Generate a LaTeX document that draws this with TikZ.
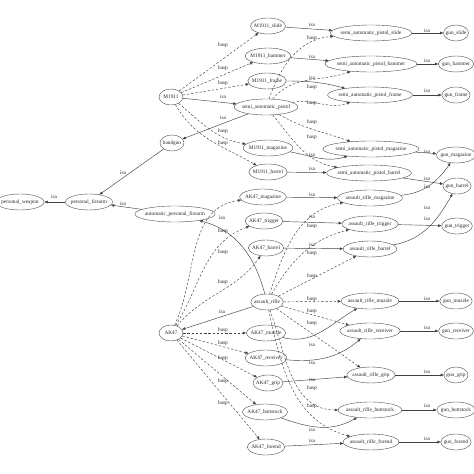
\documentclass[tikz,border=0pt]{standalone}
\usepackage{fontspec}
\setmainfont{Liberation Serif}
\usetikzlibrary{shapes.geometric,arrows.meta}
\newcommand\fsm{\fontsize{5.3}{6}\selectfont}
\begin{document}
\begin{tikzpicture}[x=1pt,y=1pt,
  ent/.style={draw=black!70, line width=0.4pt, ellipse, inner xsep=-1.5pt, inner ysep=2pt,
              minimum width=24pt, minimum height=16pt, font=\fsm, text=black!85},
  isa/.style={draw=black!75, line width=0.45pt, -{Triangle[length=3.2pt,width=2.6pt]}},
  hasp/.style={isa, dash pattern=on 2.4pt off 1.8pt},
  lab/.style={font=\fsm, inner sep=0pt, text=black!85}]
\clip (0,0) rectangle (474,474);
% nodes
\node[ent] (pw) at (20,272) {personal\_weapon};
\node[ent] (pf) at (89,272) {personal\_firearm};
\node[ent] (hg) at (172,331) {handgun};
\node[ent] (apf) at (175,260) {automatic\_personal\_firearm};
\node[ent] (m) at (171,377) {M1911};
\node[ent] (ak) at (171,141) {AK47};
\node[ent] (ms) at (268,448) {M1911\_slide};
\node[ent] (mh) at (268,418) {M1911\_hammer};
\node[ent] (mf) at (267,393) {M1911\_frame};
\node[ent] (sap) at (266,367) {semi\_automatic\_pistol};
\node[ent] (mm) at (268,326) {M1911\_magazine};
\node[ent] (mb) at (268,302) {M1911\_barrel};
\node[ent] (akm) at (263,277) {AK47\_magazine};
\node[ent] (akt) at (264,253) {AK47\_trigger};
\node[ent] (akb) at (266,226) {AK47\_barrel};
\node[ent] (ar) at (267,172) {assault\_rifle};
\node[ent] (akmz) at (266,141) {AK47\_muzzle};
\node[ent] (akr) at (266,116) {AK47\_receiver};
\node[ent] (akg) at (268,91) {AK47\_grip};
\node[ent] (akbs) at (265,62) {AK47\_buttstock};
\node[ent] (akf) at (266,27) {AK47\_forend};
\node[ent] (saps) at (371,441) {semi\_automatic\_pistol\_slide};
\node[ent] (saph) at (371,410) {semi\_automatic\_pistol\_hammer};
\node[ent] (sapf) at (370,379) {semi\_automatic\_pistol\_frame};
\node[ent] (sapm) at (371,325) {semi\_automatic\_pistol\_magazine};
\node[ent] (sapb) at (369,301) {semi\_automatic\_pistol\_barrel};
\node[ent] (arm) at (370,276) {assault\_rifle\_magazine};
\node[ent] (art) at (370,250) {assault\_rifle\_trigger};
\node[ent] (arb) at (370,225) {assault\_rifle\_barrel};
\node[ent] (armz) at (370,173) {assault\_rifle\_muzzle};
\node[ent] (arr) at (370,143) {assault\_rifle\_receiver};
\node[ent] (arg) at (371,99) {assault\_rifle\_grip};
\node[ent] (arbs) at (370,64) {assault\_rifle\_buttstock};
\node[ent] (arf) at (371,32) {assault\_rifle\_forend};
\node[ent] (gs) at (456,441) {gun\_slide};
\node[ent] (gh) at (456,410) {gun\_hammer};
\node[ent] (gf) at (456,379) {gun\_frame};
\node[ent] (gm) at (456,319) {gun\_magazine};
\node[ent] (gb) at (457,288) {gun\_barrel};
\node[ent] (gt) at (457,248) {gun\_trigger};
\node[ent] (gmz) at (456,173) {gun\_muzzle};
\node[ent] (gr) at (456,143) {gun\_receiver};
\node[ent] (gg) at (456,99) {gun\_grip};
\node[ent] (gbs) at (456,64) {gun\_buttstock};
\node[ent] (gfo) at (456,32) {gun\_forend};
% taxonomy
\draw[isa] (pf) -- (pw) node[lab] at (54,277) {isa};
\draw[isa] (hg) -- (pf) node[lab] at (123,301) {isa};
\draw[isa] (apf) -- (pf) node[lab] at (123,270) {isa};
\draw[isa] (sap) -- (hg) node[lab] at (223,356) {isa};
\draw[isa] (m) -- (sap) node[lab] at (223,377) {isa};
\draw[isa] (ar) to[out=105,in=-15] (apf) node[lab] at (222,256) {isa};
\draw[isa] (ar) -- (ak) node[lab] at (222,162) {isa};
% M1911 parts
\draw[hasp] (m) -- (ms) node[lab] at (223,429) {hasp};
\draw[hasp] (m) -- (mh) node[lab] at (223,406) {hasp};
\draw[hasp] (m) -- (mf) node[lab] at (223,391) {hasp};
\draw[hasp] (m) to[out=-40,in=170] (mm) node[lab] at (223,343) {hasp};
\draw[hasp] (m) to[out=-60,in=150] (mb) node[lab] at (223,331) {hasp};
% semi automatic pistol parts
\draw[hasp] (sap) to[out=70,in=185] (saps) node[lab] at (312,436) {hasp};
\draw[hasp] (sap) to[out=50,in=200] (saph) node[lab] at (312,387) {hasp};
\draw[hasp] (sap) to[out=10,in=200] (sapf) node[lab] at (312,371) {hasp};
\draw[hasp] (sap) to[out=-30,in=160] (sapm) node[lab] at (312,352) {hasp};
\draw[hasp] (sap) to[out=-50,in=170] (sapb) node[lab] at (312,337) {hasp};
\draw[isa] (ms) -- (saps) node[lab] at (312,449) {isa};
\draw[isa] (mh) -- (saph) node[lab] at (312,417) {isa};
\draw[isa] (mf) to[out=0,in=165] (sapf) node[lab] at (312,396) {isa};
\draw[isa] (mm) to[out=-10,in=197] (sapm) node[lab] at (312,319) {isa};
\draw[isa] (mb) -- (sapb) node[lab] at (312,305) {isa};
\draw[isa] (saps) -- (gs) node[lab] at (427,443) {isa};
\draw[isa] (saph) -- (gh) node[lab] at (427,413) {isa};
\draw[isa] (sapf) -- (gf) node[lab] at (427,383) {isa};
\draw[isa] (sapm) -- (gm) node[lab] at (427,322) {isa};
\draw[isa] (sapb) -- (gb) node[lab] at (427,295) {isa};
% AK47 parts
\draw[hasp] (ak) to[out=65,in=188] (akm) node[lab] at (223,243) {hasp};
\draw[hasp] (ak) to[out=58,in=200] (akt) node[lab] at (223,222) {hasp};
\draw[hasp] (ak) to[out=50,in=235] (akb) node[lab] at (223,192) {hasp};
\draw[hasp] (ak) -- (akmz) node[lab] at (223,144) {hasp};
\draw[hasp] (ak) -- (akr) node[lab] at (223,131) {hasp};
\draw[hasp] (ak) -- (akg) node[lab] at (223,116) {hasp};
\draw[hasp] (ak) -- (akbs) node[lab] at (223,93) {hasp};
\draw[hasp] (ak) -- (akf) node[lab] at (223,71) {hasp};
% assault rifle parts
\draw[hasp] (ar) to[out=72,in=190] (arm) node[lab] at (312,248) {hasp};
\draw[hasp] (ar) to[out=60,in=195] (art) node[lab] at (312,221) {hasp};
\draw[hasp] (ar) -- (arb) node[lab] at (312,198) {hasp};
\draw[hasp] (ar) -- (armz) node[lab] at (312,175) {hasp};
\draw[hasp] (ar) -- (arr) node[lab] at (312,163) {hasp};
\draw[hasp] (ar) -- (arg) node[lab] at (312,151) {hasp};
\draw[hasp] (ar) to[out=-70,in=180] (arbs) node[lab] at (312,86) {hasp};
\draw[hasp] (ar) to[out=-78,in=165] (arf) node[lab] at (312,68) {hasp};
\draw[isa] (akm) -- (arm) node[lab] at (312,279) {isa};
\draw[isa] (akt) -- (art) node[lab] at (312,257) {isa};
\draw[isa] (akb) -- (arb) node[lab] at (312,229) {isa};
\draw[isa] (akmz) to[out=-15,in=210] (armz) node[lab] at (312,129) {isa};
\draw[isa] (akr) to[out=-5,in=220] (arr) node[lab] at (312,111) {isa};
\draw[isa] (akg) -- (arg) node[lab] at (312,94) {isa};
\draw[isa] (akbs) to[out=-20,in=210] (arbs) node[lab] at (312,44) {isa};
\draw[isa] (akf) -- (arf) node[lab] at (312,33) {isa};
\draw[isa] (arm) to[out=5,in=235] (gm) node[lab] at (427,287) {isa};
\draw[isa] (art) -- (gt) node[lab] at (427,255) {isa};
\draw[isa] (arb) to[out=10,in=240] (gb) node[lab] at (427,266) {isa};
\draw[isa] (armz) -- (gmz) node[lab] at (427,175) {isa};
\draw[isa] (arr) -- (gr) node[lab] at (427,146) {isa};
\draw[isa] (arg) -- (gg) node[lab] at (427,102) {isa};
\draw[isa] (arbs) -- (gbs) node[lab] at (427,68) {isa};
\draw[isa] (arf) -- (gfo) node[lab] at (427,35) {isa};
\end{tikzpicture}
\end{document}
